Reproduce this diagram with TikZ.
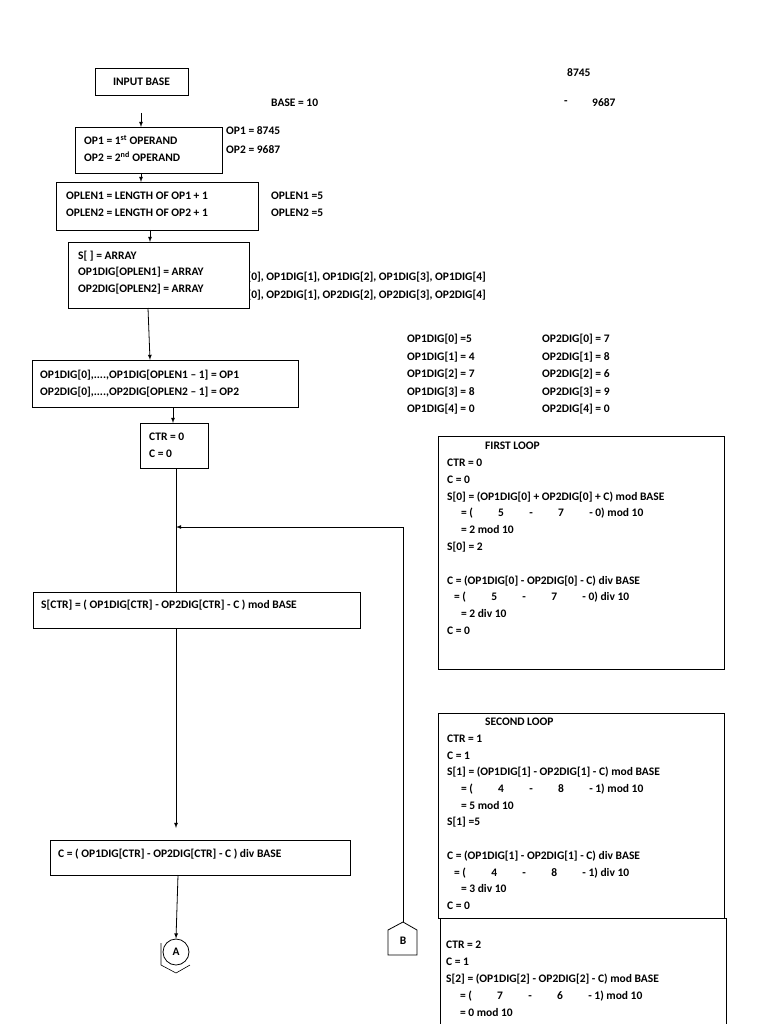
\documentclass[tikz,border=0pt]{standalone}
\usepackage{fontspec}
\setmainfont{Carlito}
\begin{document}
\begin{tikzpicture}[x=1pt,y=-1pt,
 box/.style={draw,fill=white,line width=0.8pt},
 t/.style={anchor=west,inner sep=0,font=\bfseries\fontsize{11.5}{14}\selectfont},
 tl/.style={anchor=north west,inner sep=0,align=left,font=\bfseries\fontsize{11.5}{17.5}\selectfont},
 ar/.style={-latex,line width=0.8pt}]
\useasboundingbox (0,0) rectangle (768,1024);
% behind texts
\node[t,anchor=east] (hid1) at (486,277) {OP1DIG[0], OP1DIG[1], OP1DIG[2], OP1DIG[3], OP1DIG[4]};
\node[t,anchor=east] (hid2) at (486,295) {OP2DIG[0], OP2DIG[1], OP2DIG[2], OP2DIG[3], OP2DIG[4]};
% boxes
\draw[box] (95,68) rectangle (188,95) node[t,midway,anchor=center] (ib) {INPUT BASE};
\coordinate (ibb) at (141,113);
\draw[box] (75,127) rectangle (222,173);
\node[t] (op) at (84,140) {OP1 = 1\textsuperscript{st} OPERAND};
\node[t] (op2) at (84,157) {OP2 = 2\textsuperscript{nd} OPERAND};
\draw[box] (56,182) rectangle (258,230);
\node[t] (ol1) at (66,196) {OPLEN1 = LENGTH OF OP1 + 1};
\node[t] (ol2) at (66,213) {OPLEN2 = LENGTH OF OP2 + 1};
\draw[box] (68,242) rectangle (249,308);
\node[t] (s1) at (78,256) {S[ ] = ARRAY};
\node[t] (s2) at (78,272) {OP1DIG[OPLEN1] = ARRAY};
\node[t] (s3) at (78,289) {OP2DIG[OPLEN2] = ARRAY};
\draw[box] (32,360) rectangle (298,407);
\node[t] (d1) at (40,375) {OP1DIG[0],....,OP1DIG[OPLEN1 -- 1] = OP1};
\node[t] (d2) at (40,392) {OP2DIG[0],....,OP2DIG[OPLEN2 -- 1] = OP2};
\draw[box] (140,423) rectangle (208,468);
\node[t] (c1) at (149,437) {CTR = 0};
\node[t] (c2) at (149,454) {C = 0};
\draw[box] (33,592) rectangle (360,628);
\node[t] (sc) at (41,605) {S[CTR] = ( OP1DIG[CTR] - OP2DIG[CTR] - C ) mod BASE};
\draw[box] (50,840) rectangle (350,875);
\node[t] (cc) at (58,854) {C = ( OP1DIG[CTR] - OP2DIG[CTR] - C ) div BASE};
% connectors
\draw[ar] (141,113) -- (141,127);
\draw[ar] (141,173) -- (141,182);
\draw[ar] (150,230) -- (150,242);
\draw[ar] (148,308) -- (150,360);
\draw[ar] (173,407) -- (173,423);
\draw[line width=0.8pt] (176,468) -- (176,592);
\draw[ar] (176,628) -- (176,828);
\node[circle,draw,line width=0.8pt,minimum size=26pt,inner sep=0,font=\bfseries\fontsize{11.5}{14}\selectfont] (A) at (176,952) {A};
\draw[ar] (178,875) -- (A.north);
\draw[line width=0.6pt] (161,943) -- (161,965) -- (176,973) -- (190,965);
\draw[line width=0.8pt] (388,955) -- (388,930) -- (403,922) -- (417,930) -- (417,955) -- cycle;
\node[t,anchor=center] (B) at (403,941) {B};
\draw[ar] (403,922) -- (403,527) -- (176,527);
% right annotations
\node[t] (n1) at (567,73) {8745};
\node[t] (n2) at (271,103) {BASE = 10};
\node[t] (n3) at (564,103) {-};
\node[t] (n4) at (592,103) {9687};
\node[t] (n5) at (226,131) {OP1 = 8745};
\node[t] (n6) at (226,150) {OP2 = 9687};
\node[t] (n7) at (271,196) {OPLEN1 =5};
\node[t] (n8) at (271,213) {OPLEN2 =5};
\node[tl] (tab1) at (407,334) {OP1DIG[0] =5\\OP1DIG[1] = 4\\OP1DIG[2] = 7\\OP1DIG[3] = 8\\OP1DIG[4] = 0};
\node[tl] (tab2) at (542,334) {OP2DIG[0] = 7\\OP2DIG[1] = 8\\OP2DIG[2] = 6\\OP2DIG[3] = 9\\OP2DIG[4] = 0};
% loop boxes
\draw[box] (440,918) rectangle (726,1030);
\node[tl,font=\bfseries\fontsize{11.5}{17}\selectfont] (l3) at (446,941) {CTR = 2\\C = 1\\S[2] = (OP1DIG[2] - OP2DIG[2] - C) mod BASE\\\hspace*{1.2em}= (\hspace{2.2em}7\hspace{2.2em}-\hspace{2.2em}6\hspace{2.2em}- 1) mod 10\\\hspace*{1.2em}= 0 mod 10};
\draw[box] (438,713) rectangle (724,918);
\node[tl,font=\bfseries\fontsize{11.5}{16.7}\selectfont] (l2) at (447,718) {\hspace*{3.3em}SECOND LOOP\\CTR = 1\\C = 1\\S[1] = (OP1DIG[1] - OP2DIG[1] - C) mod BASE\\\hspace*{1.2em}= (\hspace{2.2em}4\hspace{2.2em}-\hspace{2.2em}8\hspace{2.2em}- 1) mod 10\\\hspace*{1.2em}= 5 mod 10\\S[1] =5\\[16.7pt]C = (OP1DIG[1] - OP2DIG[1] - C) div BASE\\\hspace*{0.6em}= (\hspace{2.2em}4\hspace{2.2em}-\hspace{2.2em}8\hspace{2.2em}- 1) div 10\\\hspace*{1.2em}= 3 div 10\\C = 0};
\draw[box] (438,436) rectangle (724,669);
\node[tl,font=\bfseries\fontsize{11.5}{16.8}\selectfont] (l1) at (447,442) {\hspace*{3.3em}FIRST LOOP\\CTR = 0\\C = 0\\S[0] = (OP1DIG[0] + OP2DIG[0] + C) mod BASE\\\hspace*{1.2em}= (\hspace{2.2em}5\hspace{2.2em}-\hspace{2.2em}7\hspace{2.2em}- 0) mod 10\\\hspace*{1.2em}= 2 mod 10\\S[0] = 2\\[16.8pt]C = (OP1DIG[0] - OP2DIG[0] - C) div BASE\\\hspace*{0.6em}= (\hspace{2.2em}5\hspace{2.2em}-\hspace{2.2em}7\hspace{2.2em}- 0) div 10\\\hspace*{1.2em}= 2 div 10\\C = 0};
\end{tikzpicture}
\end{document}
